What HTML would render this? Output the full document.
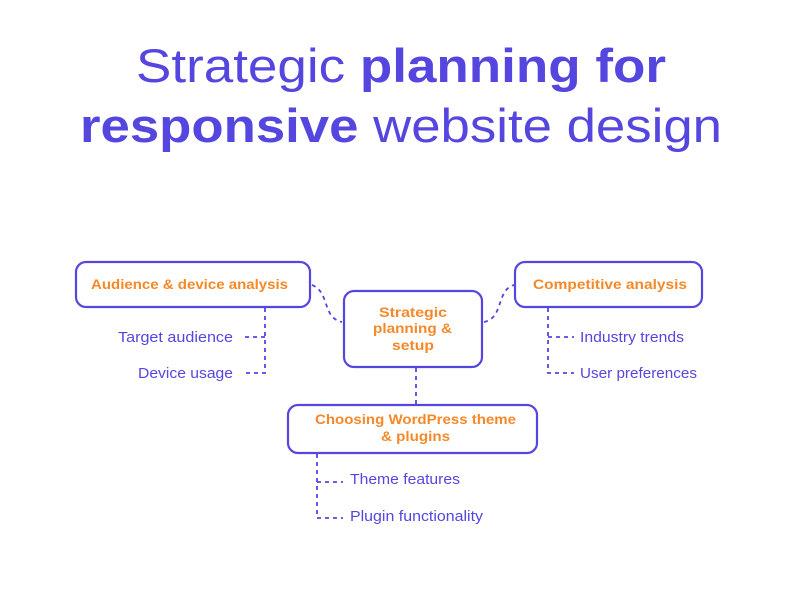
<!DOCTYPE html>
<html><head><meta charset="utf-8"><style>
html,body{margin:0;padding:0;background:#fff;}
svg{display:block;}
</style></head><body>
<svg width="802" height="589" viewBox="0 0 802 589" xmlns="http://www.w3.org/2000/svg" font-family="Liberation Sans, sans-serif">
<g fill="#5546e0" font-size="47">
<text x="401" y="82" text-anchor="middle" textLength="530" lengthAdjust="spacingAndGlyphs">Strategic <tspan font-weight="bold">planning for</tspan></text>
<text x="401" y="142" text-anchor="middle" textLength="642" lengthAdjust="spacingAndGlyphs"><tspan font-weight="bold">responsive</tspan> website design</text>
</g>
<g fill="none" stroke="#5546e0" stroke-width="2.2">
<rect x="76" y="262" width="234" height="45" rx="10"/>
<rect x="344" y="291" width="138" height="76" rx="10"/>
<rect x="515" y="262" width="187" height="45" rx="10"/>
<rect x="288" y="405" width="249" height="48" rx="10"/>
</g>
<g fill="none" stroke="#5546e0" stroke-width="1.8" stroke-dasharray="4 4">
<path d="M312 285 C330 292,322 318,342 322"/>
<path d="M484 322 C504 318,496 290,514 285"/>
<path d="M265 308 V373 H242 M265 337 H242"/>
<path d="M548 308 V373 H574 M548 337 H574"/>
<path d="M416 368 V404"/>
<path d="M317 454 V518 H343 M317 482 H343"/>
</g>
<g fill="#f5892a" font-weight="bold" font-size="14" lengthAdjust="spacingAndGlyphs">
<text x="91" y="289" textLength="197" lengthAdjust="spacingAndGlyphs">Audience &amp; device analysis</text>
<text x="379" y="317" textLength="68" lengthAdjust="spacingAndGlyphs">Strategic</text>
<text x="373" y="333" textLength="79" lengthAdjust="spacingAndGlyphs">planning &amp;</text>
<text x="392" y="350" textLength="42" lengthAdjust="spacingAndGlyphs">setup</text>
<text x="533" y="289" textLength="154" lengthAdjust="spacingAndGlyphs">Competitive analysis</text>
<text x="315" y="424" textLength="201" lengthAdjust="spacingAndGlyphs">Choosing WordPress theme</text>
<text x="381" y="441" textLength="69" lengthAdjust="spacingAndGlyphs">&amp; plugins</text>
</g>
<g fill="#5546e0" font-size="15">
<text x="118" y="342" textLength="115" lengthAdjust="spacingAndGlyphs">Target audience</text>
<text x="138" y="378" textLength="95" lengthAdjust="spacingAndGlyphs">Device usage</text>
<text x="580" y="342" textLength="104" lengthAdjust="spacingAndGlyphs">Industry trends</text>
<text x="580" y="378" textLength="117" lengthAdjust="spacingAndGlyphs">User preferences</text>
<text x="350" y="484" textLength="110" lengthAdjust="spacingAndGlyphs">Theme features</text>
<text x="350" y="521" textLength="133" lengthAdjust="spacingAndGlyphs">Plugin functionality</text>
</g>
</svg>
</body></html>
